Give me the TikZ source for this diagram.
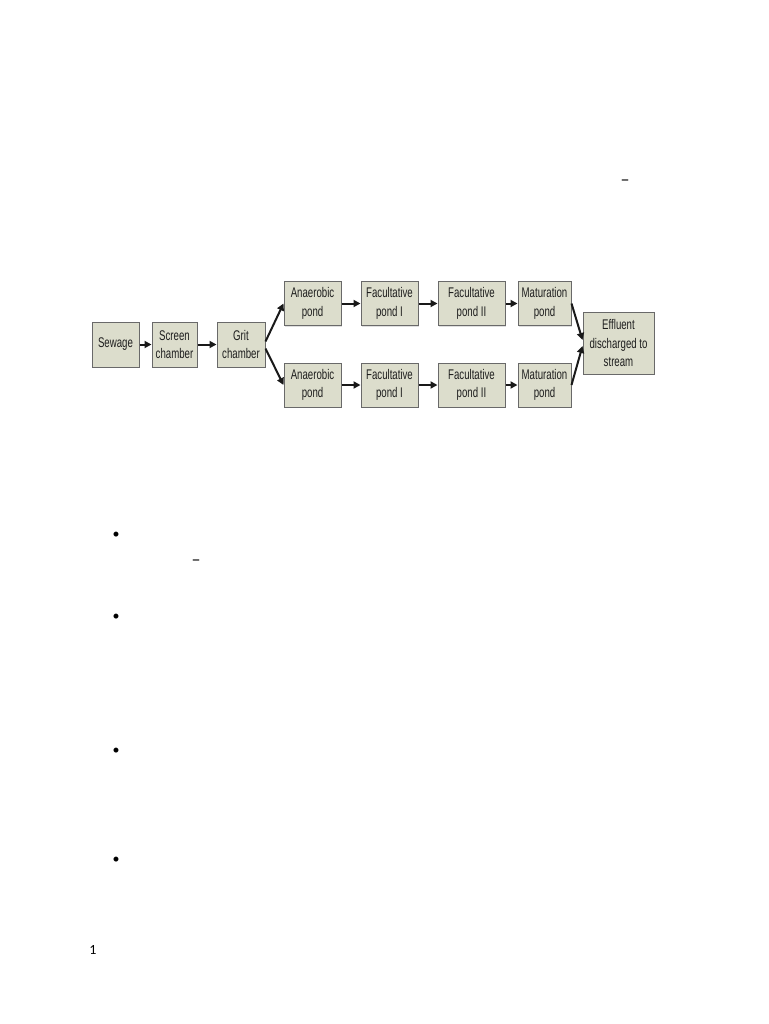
\documentclass[tikz,border=0pt]{standalone}
\usepackage{fontspec}
\setmainfont{Carlito}
\newfontfamily\boxfont[FakeStretch=0.69]{Liberation Sans}
\usepackage{tikz}
\usetikzlibrary{arrows.meta,shadows}
\definecolor{boxfill}{RGB}{220,221,204}
\definecolor{boxline}{RGB}{105,105,105}
\definecolor{boxtext}{RGB}{30,30,30}
\tikzset{
  pond/.style={draw=boxline, line width=1pt, fill=boxfill, text=boxtext,
    drop shadow={opacity=0.25, shadow xshift=1pt, shadow yshift=-1pt},
    align=center, inner sep=0pt, minimum height=44pt,
    font=\boxfont\fontsize{14}{18.5}\selectfont},
  flow/.style={-{Triangle[length=7pt,width=7pt]}, line width=2pt, black!90},
  pagetext/.style={font=\fontsize{14}{17}\selectfont, inner sep=0pt}
}

\begin{document}
\begin{tikzpicture}[x=1pt,y=-1pt]
    \useasboundingbox (0,0) rectangle (768,1024);
    % first stages
    \node[pond, minimum width=47pt, minimum height=45pt] (sewage) at (115.5,344.5) {Sewage};
    \node[pond, minimum width=45pt, minimum height=45pt] (screen) at (174.5,344.5) {Screen\\chamber};
    \node[pond, minimum width=48pt, minimum height=45pt] (grit) at (241,344.5) {Grit\\chamber};
    % upper line of ponds
    \node[pond, minimum width=57pt] (anaA) at (312.5,303.5) {Anaerobic\\pond};
    \node[pond, minimum width=57pt] (facA) at (389.5,303.5) {Facultative\\pond I};
    \node[pond, minimum width=67pt] (facIIA) at (471.5,303.5) {Facultative\\pond II};
    \node[pond, minimum width=53pt] (matA) at (544.5,303.5) {Maturation\\pond};
    % lower line of ponds
    \node[pond, minimum width=57pt] (anaB) at (312.5,385) {Anaerobic\\pond};
    \node[pond, minimum width=57pt] (facB) at (389.5,385) {Facultative\\pond I};
    \node[pond, minimum width=67pt] (facIIB) at (471.5,385) {Facultative\\pond II};
    \node[pond, minimum width=53pt] (matB) at (544.5,385) {Maturation\\pond};
    \node[pond, minimum width=71pt, minimum height=62pt] (effluent) at (618.5,343) {Effluent\\discharged to\\stream};
    % connectors
    \draw[flow] (sewage) -- (screen);
    \draw[flow] (screen) -- (grit);
    \draw[flow] ([yshift=3pt]grit.east) -- (anaA.west);
    \draw[flow] ([yshift=-4pt]grit.east) -- (anaB.west);
    \draw[flow] (anaA) -- (facA);
    \draw[flow] (facA) -- (facIIA);
    \draw[flow] (facIIA) -- (matA);
    \draw[flow] (anaB) -- (facB);
    \draw[flow] (facB) -- (facIIB);
    \draw[flow] (facIIB) -- (matB);
    \draw[flow] (matA.east) -- ([yshift=3pt]effluent.west);
    \draw[flow] (matB.east) -- ([yshift=-3pt]effluent.west);
    % rest of the page
    \node[pagetext, font=\fontsize{18}{20}\selectfont] (dashA) at (625,183) {–};
    \node[pagetext, font=\fontsize{18}{20}\selectfont] (dashB) at (196,563) {–};
    \node[pagetext] (bulletA) at (116,535) {\textbullet};
    \node[pagetext] (bulletB) at (116,617) {\textbullet};
    \node[pagetext] (bulletC) at (116,751) {\textbullet};
    \node[pagetext] (bulletD) at (116,860) {\textbullet};
    \node[pagetext] (pagenum) at (93,950) {1};
\end{tikzpicture}
\end{document}
